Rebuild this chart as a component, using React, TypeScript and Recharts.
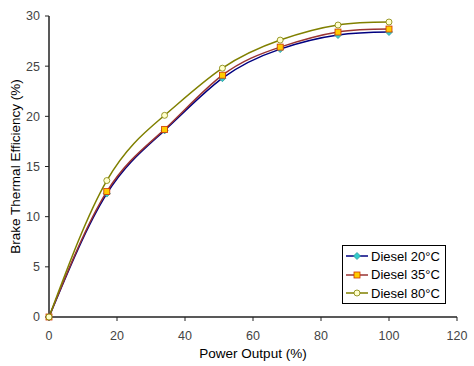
import React from 'react';
import { LineChart, Line, XAxis, YAxis } from 'recharts';

// Power output (%)
const powerOutput = [0, 17, 34, 51, 68, 85, 100];
// Brake thermal efficiency (%)
const diesel20 = [0, 12.3, 18.6, 23.8, 26.7, 28.1, 28.4];
const diesel35 = [0, 12.5, 18.7, 24.1, 26.9, 28.4, 28.7];
const diesel80 = [0, 13.6, 20.1, 24.8, 27.6, 29.1, 29.4];

const xTicks = [0, 20, 40, 60, 80, 100, 120];
const yTicks = [0, 5, 10, 15, 20, 25, 30];

const data = powerOutput.map((p, i) => ({
  power: p,
  d20: diesel20[i],
  d35: diesel35[i],
  d80: diesel80[i],
}));

const series = [
  { key: 'd20', name: 'Diesel 20°C', line: '#000080', fill: '#33cccc', stroke: '#339999', shape: 'diamond' },
  { key: 'd35', name: 'Diesel 35°C', line: '#993333', fill: '#ffcc00', stroke: '#cc3300', shape: 'square' },
  { key: 'd80', name: 'Diesel 80°C', line: '#808000', fill: '#ffffcc', stroke: '#808000', shape: 'circle' },
];

const font = 'Liberation Sans, Arial, sans-serif';

const Marker = ({ cx, cy, shape, fill, stroke }: any) => {
  if (cx == null || cy == null) return null;
  if (shape === 'diamond') {
    return <polygon points={`${cx},${cy - 3.5} ${cx + 3.5},${cy} ${cx},${cy + 3.5} ${cx - 3.5},${cy}`} fill={fill} stroke={stroke} strokeWidth={0.8} />;
  }
  if (shape === 'square') {
    return <rect x={cx - 3} y={cy - 3} width={6} height={6} fill={fill} stroke={stroke} strokeWidth={0.8} />;
  }
  return <circle cx={cx} cy={cy} r={3} fill={fill} stroke={stroke} strokeWidth={0.8} />;
};

// legend drawn as an overlay box inside the plot, bottom right
const LegendBox = () => (
  <div
    style={{
      position: 'absolute',
      left: 342,
      top: 245,
      width: 99,
      height: 56,
      border: '1.5px solid #000',
      background: '#fff',
      padding: '1px 0 0 3px',
      fontFamily: font,
      fontSize: 13,
      color: '#000',
      boxSizing: 'content-box',
    }}
  >
    {series.map((s) => (
      <div key={s.key} style={{ display: 'flex', alignItems: 'center', height: 18.5, whiteSpace: 'nowrap' }}>
        <svg width={22} height={10} style={{ marginRight: 3 }}>
          <line x1={0} y1={5} x2={22} y2={5} stroke={s.line} strokeWidth={1.5} />
          <Marker cx={11} cy={5} shape={s.shape} fill={s.fill} stroke={s.stroke} />
        </svg>
        <span>{s.name}</span>
      </div>
    ))}
  </div>
);

const tickStyle = { fontSize: 12.5, fill: '#444', fontFamily: font };

export default function App() {
  return (
    <div style={{ position: 'absolute', left: 0, top: 0, width: 474, height: 366, background: '#fff' }}>
      <LineChart width={474} height={366} data={data} margin={{ top: 16, right: 17, bottom: 8, left: 15 }}>
        <XAxis
          dataKey="power"
          type="number"
          domain={[0, 120]}
          ticks={xTicks}
          tick={tickStyle}
          tickSize={4}
          tickMargin={10}
          axisLine={{ stroke: '#222', strokeWidth: 1.5 }}
          tickLine={{ stroke: '#222' }}
          height={41}
          label={{ value: 'Power Output (%)', position: 'insideBottom', offset: 0, style: { fontSize: 13.5, fill: '#000', fontFamily: font } }}
        />
        <XAxis xAxisId="top" orientation="top" dataKey="power" type="number" domain={[0, 120]} tick={false} tickLine={false} height={0} axisLine={{ stroke: '#222', strokeWidth: 1.5 }} />
        <YAxis
          type="number"
          domain={[0, 30]}
          ticks={yTicks}
          tick={tickStyle}
          tickSize={4}
          tickMargin={5}
          axisLine={{ stroke: '#222', strokeWidth: 1.5 }}
          tickLine={{ stroke: '#222' }}
          width={34}
          label={{ value: 'Brake Thermal Efficiency (%)', angle: -90, position: 'insideLeft', offset: 0, style: { textAnchor: 'middle', fontSize: 13.5, fill: '#000', fontFamily: font } }}
        />
        <YAxis yAxisId="right" orientation="right" domain={[0, 30]} tick={false} tickLine={false} width={0} axisLine={{ stroke: '#222', strokeWidth: 1.5 }} />
        {series.map((s) => (
          <Line
            key={s.key}
            type="natural"
            dataKey={s.key}
            name={s.name}
            stroke={s.line}
            strokeWidth={1.5}
            dot={(p: any) => <Marker key={`${s.key}-${p.index}`} cx={p.cx} cy={p.cy} shape={s.shape} fill={s.fill} stroke={s.stroke} />}
            activeDot={false}
            isAnimationActive={false}
          />
        ))}
      </LineChart>
      <LegendBox />
    </div>
  );
}
